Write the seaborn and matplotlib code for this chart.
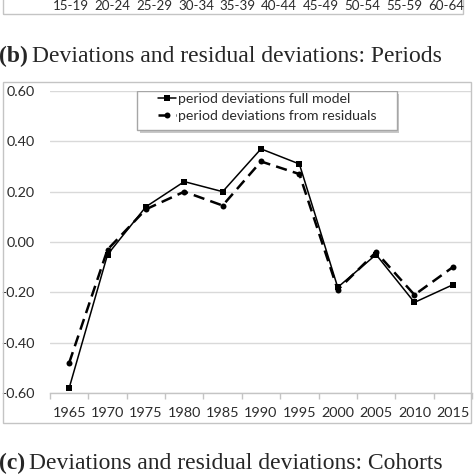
import matplotlib
matplotlib.use('Agg')
import matplotlib.pyplot as plt
import seaborn as sns
import pandas as pd
from matplotlib.patches import Rectangle
from matplotlib.ticker import FormatStrFormatter

# -- data --
years = [1965, 1970, 1975, 1980, 1985, 1990, 1995, 2000, 2005, 2010, 2015]
full_model = [-0.58, -0.05, 0.14, 0.24, 0.20, 0.37, 0.31, -0.18, -0.05, -0.24, -0.17]
from_residuals = [-0.48, -0.03, 0.13, 0.20, 0.145, 0.32, 0.27, -0.19, -0.04, -0.21, -0.10]
y_ticks = [-0.6, -0.4, -0.2, 0.0, 0.2, 0.4, 0.6]
age_groups = ['15-19', '20-24', '25-29', '30-34', '35-39',
              '40-44', '45-49', '50-54', '55-59', '60-64']
label_full = 'period deviations full model'
label_resid = 'period deviations from residuals'
title_b = 'Deviations and residual deviations: Periods'
title_c = 'Deviations and residual deviations: Cohorts'

sns.set_style('white')
plt.rcParams['font.family'] = ['Lato', 'DejaVu Sans']

W = H = 474
fig = plt.figure(figsize=(4.74, 4.74), dpi=100)
fig.patch.set_facecolor('white')


def fx(px):
    return px / W


def fy(py):
    return 1 - py / H


tick_col = '#2b2b2b'
border_col = '#c4c4c4'
tick_size = 10.4

# strip left over from the panel above
fig.add_artist(Rectangle((fx(3), fy(14)), fx(463) - fx(3), 0.2,
                         transform=fig.transFigure, fill=False,
                         edgecolor=border_col, lw=1))
step = (446 - 71) / (len(age_groups) - 1)
for i, lab in enumerate(age_groups):
    fig.text(fx(71 + i * step), fy(6.5), lab, ha='center', va='center',
             fontsize=9.6, color=tick_col)

# panel titles
serif = ['Liberation Serif', 'DejaVu Serif']
tb = fig.text(fx(-1), fy(62), '(b)', fontsize=17, fontweight='bold',
              family=serif, va='baseline')
tc = fig.text(fx(-1), fy(469), '(c)', fontsize=17, fontweight='bold',
              family=serif, va='baseline')
fig.canvas.draw()
r = fig.canvas.get_renderer()
for t, s, yy in [(tb, title_b, 62), (tc, title_c, 469)]:
    x1 = t.get_window_extent(r).x1
    fig.text(x1 / W + fx(4), fy(yy), s, fontsize=17, family=serif,
             va='baseline')

# chart border
fig.add_artist(Rectangle((fx(3), fy(423)), fx(471) - fx(3), fy(82) - fy(423),
                         transform=fig.transFigure, fill=False,
                         edgecolor=border_col, lw=1))

ax = fig.add_axes([fx(50), fy(393), fx(472) - fx(50), fy(91) - fy(393)])
ax.set_facecolor('none')

df = pd.DataFrame({'year': years, 'full': full_model, 'resid': from_residuals})
sns.lineplot(data=df, x='year', y='full', ax=ax, color='black', marker='s',
             markersize=4.8, markeredgewidth=0, linewidth=1.1,
             label=label_full, clip_on=False, zorder=4)
sns.lineplot(data=df, x='year', y='resid', ax=ax, color='black', marker='o',
             markersize=4.3, markeredgewidth=0, linewidth=1.8,
             linestyle=(0, (4.5, 2.5)), label=label_resid, clip_on=False,
             zorder=4)

ax.set_xlim(1962.5, 2017.5)
ax.set_ylim(-0.6, 0.6)
ax.set_yticks(y_ticks)
ax.yaxis.set_major_formatter(FormatStrFormatter('%.2f'))
ax.set_xticks(years)
ax.set_xticks([y - 2.5 for y in years] + [years[-1] + 2.5], minor=True)
ax.tick_params(axis='x', which='major', length=0, pad=10, labelsize=tick_size,
               labelcolor=tick_col)
ax.tick_params(axis='x', which='minor', length=4, width=1, color=border_col,
               direction='out', bottom=True)
ax.tick_params(axis='y', length=0, pad=11, labelsize=tick_size,
               labelcolor=tick_col)
ax.set_xlabel('')
ax.set_ylabel('')
ax.yaxis.grid(True, color='#d9d9d9', lw=1)
ax.xaxis.grid(False)
for s in ['left', 'top', 'right']:
    ax.spines[s].set_visible(False)
ax.spines['bottom'].set_color(border_col)
ax.spines['bottom'].set_linewidth(1)

# legend with an Excel-like shadowed box
lx0, lx1 = (137 - 50) / 422, (397 - 50) / 422
ly0, ly1 = (393 - 130) / 302, 1.0
ax.add_patch(Rectangle((lx0 + 2.5 / 422, ly0 - 2.5 / 302), lx1 - lx0, ly1 - ly0,
                       transform=ax.transAxes, facecolor='#c8c8c8',
                       edgecolor='none', zorder=5))
ax.add_patch(Rectangle((lx0, ly0), lx1 - lx0, ly1 - ly0,
                       transform=ax.transAxes, facecolor='white',
                       edgecolor='#a6a6a6', lw=1, zorder=6))
leg = ax.legend(loc='upper left', bbox_to_anchor=((158 - 50) / 422, 0.995),
                borderaxespad=0, borderpad=0, frameon=False, fontsize=10.2,
                handlelength=1.3, handletextpad=0.1, labelspacing=0.38,
                labelcolor=tick_col)
leg.set_zorder(7)

fig.savefig('out.png', dpi=100, facecolor='white')
